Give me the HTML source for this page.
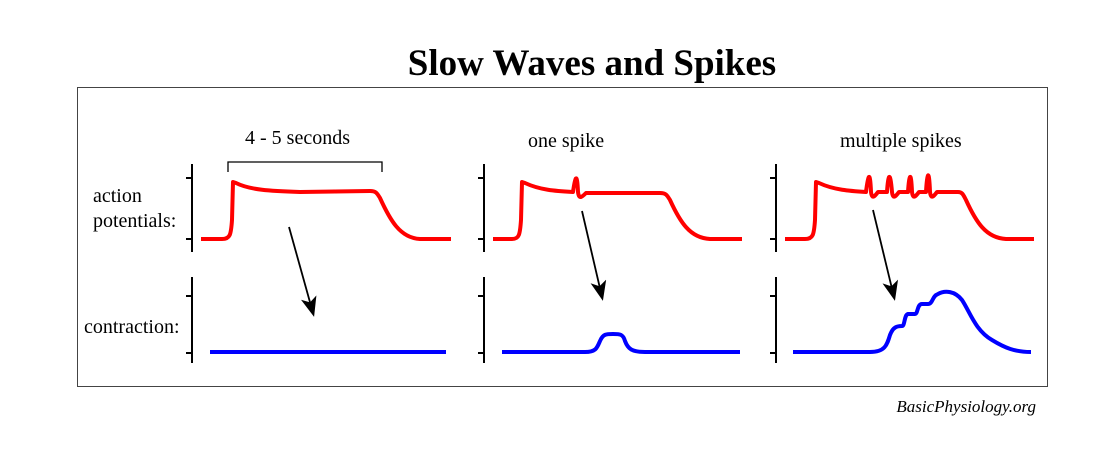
<!DOCTYPE html>
<html><head><style>
html,body{margin:0;padding:0;background:#fff;}
svg{display:block;}
text{font-family:"Liberation Serif",serif;}
</style></head><body>
<svg width="1097" height="449" viewBox="0 0 1097 449" xmlns="http://www.w3.org/2000/svg">
<defs>
<marker id="ah" markerWidth="20" markerHeight="16" refX="16" refY="8" orient="auto" markerUnits="userSpaceOnUse" viewBox="0 0 20 16">
<path d="M0,0 L20,8 L0,16 L5,8 Z" fill="#000"/>
</marker>
<g id="axes" stroke="#000" stroke-width="2" fill="none">
<path d="M192,164V252 M186,178H192 M186,239H192"/>
<path d="M192,277V363 M186,296H192 M186,353H192"/>
</g>
</defs>
<text x="592" y="75" text-anchor="middle" font-size="37" font-weight="bold">Slow Waves and Spikes</text>
<rect x="77.5" y="87.5" width="970" height="299" fill="none" stroke="#444" stroke-width="1"/>
<text x="93" y="202" font-size="20">action</text>
<text x="93" y="227" font-size="20">potentials:</text>
<text x="84" y="333" font-size="20">contraction:</text>
<text x="245" y="144" font-size="20">4 - 5 seconds</text>
<text x="528" y="147" font-size="20">one spike</text>
<text x="840" y="147" font-size="20">multiple spikes</text>
<text x="1036" y="412" font-size="17" font-style="italic" text-anchor="end">BasicPhysiology.org</text>
<path d="M228,172V162H382V172" fill="none" stroke="#000" stroke-width="1.3"/>

<use href="#axes"/>
<use href="#axes" transform="translate(292,0)"/>
<use href="#axes" transform="translate(584,0)"/>

<g fill="none" stroke="#ff0000" stroke-width="4" stroke-linejoin="round" stroke-linecap="butt">
<path d="M201,239 L222,239 C230,239 231,235 232,220 L233,182 L236,183 C250,190 270,191 300,192 L370,191 C376,191 377,193 380,198 C390,220 400,238 420,239 L451,239"/>
<path d="M493,239 L512,239 C519,239 520,235 521,220 L522,182 L525,183 C540,190 555,191 573,192 C575,178 577,170 578,192 C579,200 582,197 586,193 L660,193 C666,193 667,195 670,200 C680,222 690,238 710,239 L742,239"/>
<path d="M785,239 L805,239 C813,239 814,235 815,220 L816,182 L819,183 C834,190 850,191 866,192 C868,176 870,168 871,192 C872,200 875,196 878,192 L887,192 C888,176 890,168 892,192 C893,200 896,196 899,192 L908,192 C909,176 911,168 912,192 C913,200 916,196 919,192 L926,192 C927,174 929,166 930,192 C931,200 934,196 937,192 L958,192 C962,192 963,194 966,200 C976,222 986,238 1006,239 L1034,239"/>
</g>
<g fill="none" stroke="#0000ff" stroke-width="4" stroke-linejoin="round">
<path d="M210,352 L446,352"/>
<path d="M502,352 L585,352 C596,352 597,348 600,341 C603,334 606,334 613,334 C620,334 623,334 625,341 C628,349 632,352 645,352 L740,352"/>
<path d="M793,352 L870,352 C885,352 887,345 890,335 C893,327 897,326 902,326 C905,326 904,315 908,314 L915,314 C918,314 917,304 922,304 L928,304 C933,304 932,296 938,294 C945,290 955,291 962,300 C970,312 975,330 992,340 C1005,348 1015,352 1031,352"/>
</g>
<g stroke="#000" stroke-width="1.8" fill="none">
<path d="M289,227 L313,313" marker-end="url(#ah)"/>
<path d="M582,211 L602,297" marker-end="url(#ah)"/>
<path d="M873,210 L894,297" marker-end="url(#ah)"/>
</g>
</svg>
</body></html>
